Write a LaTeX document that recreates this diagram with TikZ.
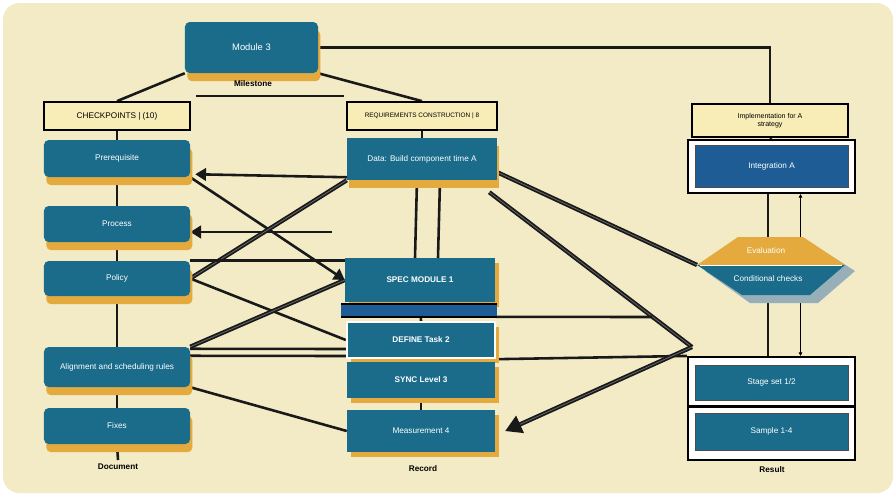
\documentclass[tikz,border=0pt]{standalone}
\usepackage{fontspec}
\setsansfont{Liberation Sans}
\usetikzlibrary{calc,shadows,arrows.meta}
\definecolor{bgcream}{RGB}{242,235,198}
\definecolor{hdryellow}{RGB}{248,237,182}
\definecolor{tealbox}{RGB}{26,108,138}
\definecolor{shadowor}{RGB}{228,170,62}
\definecolor{integblue}{RGB}{30,92,150}
\definecolor{shadowgray}{RGB}{150,175,185}
\pgfdeclarelayer{back}
\pgfdeclarelayer{lines}
\pgfsetlayers{back,lines,main}
\tikzset{
  box/.style={fill=tealbox, rounded corners=4pt, text=white, font=\sffamily\scriptsize,
    minimum width=4.38cm, drop shadow={fill=shadowor, shadow xshift=2pt, shadow yshift=-7pt, opacity=1}},
  midbox/.style={fill=tealbox, text=white, font=\sffamily\scriptsize, minimum width=4.44cm,
    drop shadow={fill=shadowor, shadow xshift=3pt, shadow yshift=-4pt, opacity=1}},
  hdr/.style={fill=hdryellow, draw=black, line width=1.5pt, font=\sffamily\scriptsize,
    minimum width=4.38cm, minimum height=0.84cm},
  lbl/.style={font=\sffamily\scriptsize\bfseries},
  link/.style={line width=2.2pt, draw=black!90},
  dbl/.style={line width=1.5pt, draw=black!90, double=black!60, double distance=0.7pt},
}
\begin{document}
\begin{tikzpicture}[x=0.03cm,y=-0.03cm,>=Triangle]
  \begin{pgfonlayer}{back}
    \fill[white] (0,0) rectangle (896,496);
    \fill[bgcream, rounded corners=14pt] (3,3) rectangle (893,493);
  \end{pgfonlayer}
  \useasboundingbox (0,0) rectangle (896,496);

  % top
  \node[box, minimum width=3.99cm, minimum height=1.53cm, font=\sffamily\footnotesize] (mod) at (251.5,47.5) {Module 3};
  \node[lbl] (mile) at (253,84) {Milestone};

  % left column
  \node[hdr] (chk) at (117,116) {CHECKPOINTS | (10)};
  \node[box, minimum height=1.11cm] (pre) at (117,158.5) {Prerequisite};
  \node[box, minimum height=1.08cm] (proc) at (117,224) {Process};
  \node[box, minimum height=1.05cm] (pol) at (117,278.5) {Policy};
  \node[box, minimum height=1.2cm] (align) at (117,367) {Alignment and scheduling rules};
  \node[box, minimum height=1.08cm] (fix) at (117,426) {Fixes};
  \node[lbl] (doc) at (118,467) {Document};

  % middle column
  \node[hdr, minimum width=4.5cm, font=\sffamily\fontsize{5.5}{6}\selectfont] (req) at (422,116) {REQUIREMENTS CONSTRUCTION | 8};
  \node[box, rounded corners=0pt, minimum width=4.5cm, minimum height=1.26cm] (tfa) at (422,159) {Data: Build component time A};
  \node[midbox, minimum width=4.5cm, minimum height=1.32cm, font=\sffamily\scriptsize\bfseries] (spec) at (420,280) {SPEC MODULE 1};
  \fill[integblue] (341,304) rectangle (497,317);
  \draw[line width=1pt] (341,304) -- (497,304) (341,317) -- (497,317);
  \node[midbox, draw=white, line width=2pt, minimum height=1.08cm, font=\sffamily\scriptsize\bfseries] (def) at (421,340) {DEFINE Task 2};
  \node[midbox, minimum height=1.08cm, font=\sffamily\scriptsize\bfseries] (sync) at (421,380) {SYNC Level 3};
  \node[midbox, minimum height=1.26cm] (meas) at (421,431) {Measurement 4};
  \node[lbl] (rec) at (423,469) {Record};

  % right column
  \node[hdr, minimum width=4.68cm, minimum height=0.99cm, align=center, font=\sffamily\fontsize{6}{7}\selectfont] (impl) at (770,120.5) {Implementation for A\\strategy};
  \node[draw=black, line width=1.8pt, fill=white, minimum width=5.01cm, minimum height=1.59cm] (integ) at (771.5,166.5) {};
  \node[fill=integblue, draw=black!70, text=white, font=\sffamily\scriptsize, minimum width=4.59cm, minimum height=1.26cm] (integin) at (integ.center) {Integration A};
  \node[draw=black, line width=1.8pt, fill=white, minimum width=5.01cm, minimum height=3.09cm] (res) at (771.5,408.5) {};
  \node[fill=tealbox, draw=black!70, text=white, font=\sffamily\scriptsize, minimum width=4.59cm, minimum height=1.05cm] (r1) at (771.5,382.5) {Stage set 1/2};
  \node[fill=tealbox, draw=black!70, text=white, font=\sffamily\scriptsize, minimum width=4.59cm, minimum height=1.11cm] (r2) at (771.5,431.5) {Sample 1-4};
  \coordinate (sep) at ($(r1.south)!.5!(r2.north)$);
  \draw[line width=1.8pt] (sep -| res.west) -- (sep -| res.east);
  \node[lbl] (result) at (772,470) {Result};

  % decision shape
  \coordinate (evalW) at (697,265);
  \fill[shadowgray] (705,271) -- (746,243) -- (811,243) -- (855,271) -- (818,303) -- (750,303) -- cycle;
  \fill[shadowor] (697,265) -- (738,237) -- (803,237) -- (845,265) -- cycle;
  \fill[tealbox] (697,265) -- (845,265) -- (810,295) -- (742,295) -- cycle;
  \draw[white, line width=0.6pt] (700,265) -- (842,265);
  \node[text=white, font=\sffamily\scriptsize] (evalT) at (766,251) {Evaluation};
  \node[text=white, font=\sffamily\scriptsize] (evalB) at (768,279) {Conditional checks};

  \begin{pgfonlayer}{lines}
    % tree from module
    \draw[link] (mod.east) -| (impl.north);
    \draw[link] (mod.south west) -- (chk.north);
    \draw[link] (mod.south east) -- (req.north);
    \draw[link] ($(chk.north east)+(5,-5)$) -- ($(req.north west)+(-2,-5)$);
    % columns
    \foreach \a/\b in {chk/pre,pre/proc,proc/pol,pol/align,align/fix,fix/doc}
      \draw[link] (\a.south) -- (\b.north);
    \draw[link] (req.south) -- (tfa.north);
    \draw[link] ([xshift=-0.15cm]tfa.south) -- ([xshift=-0.15cm]spec.north);
    \draw[link] ([xshift=0.54cm]tfa.south) -- ([xshift=0.54cm]spec.north);
    \foreach \a/\b in {spec/def,def/sync,sync/meas}
      \draw[link] (\a.south) -- (\b.north);
    \draw[link] (impl.south) -- (integ.north);
    \draw[link] ([xshift=-0.1cm]integ.south) -- ([xshift=-0.1cm]res.north);
    \draw[semithick,<->,>={Triangle[length=3pt,width=3pt]}] ([xshift=0.87cm]integ.south) -- ([xshift=0.87cm]res.north);
    % left to middle
    \coordinate (cx) at (332,232);
    \draw[link,->] ($(tfa.south west)+(0,-3)$) -- ($(pre.south east)+(5,-3)$);
    \draw[link,->] (pre.south east) -- (spec.west);
    \draw[link,->] (cx) -- ($(proc.east)+(0,8)$);
    \draw[dbl] (tfa.south west) -- (pol.east);
    \draw[link] (pol.north east) -- (spec.west |- pol.north east);
    \draw[link] (pol.east) -- (def.west);
    \draw[dbl] (spec.west) -- (align.north east);
    \draw[link] ($(align.north east)+(0,2)$) -- ($(def.west)+(0,9)$);
    \draw[link] ($(align.north east)+(0,9)$) -- ($(def.west)+(0,16)$);
    \draw[link] (align.south east) -- (meas.west);
    % middle to right
    \coordinate (conv) at (692,347);
    \coordinate (join) at (652,317);
    \draw[dbl] ($(tfa.south east)+(0,-8)$) -- (evalW);
    \draw[dbl] ($(tfa.south east)+(-8,12)$) -- (conv);
    \draw[link] ($(def.north east)+(0,-4)$) -- (join);
    \draw[link] (def.south east) -- (res.north west);
    \draw[dbl,<-] ($(meas.east)+(10,0)$) -- (conv);
  \end{pgfonlayer}
\end{tikzpicture}
\end{document}
